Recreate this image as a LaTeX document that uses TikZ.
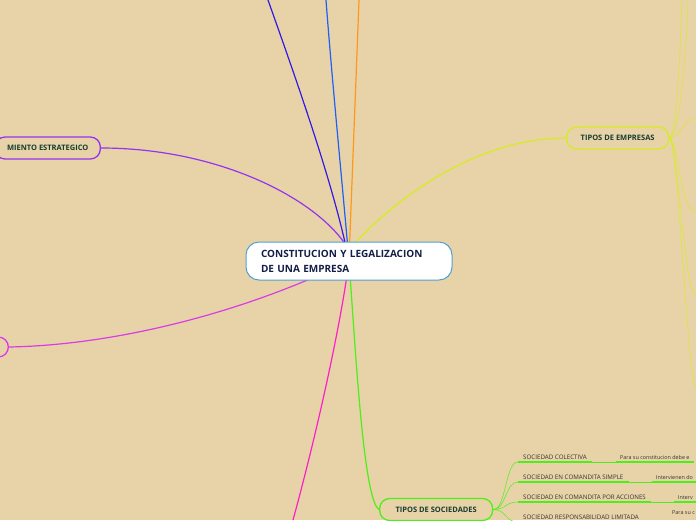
\documentclass[tikz,border=0pt]{standalone}
\usepackage{fontspec}
\setmainfont{Open Sans}
\usetikzlibrary{positioning,backgrounds}
\definecolor{fondo}{RGB}{232,211,168}
\definecolor{tinta}{RGB}{22,60,48}
\definecolor{tintacentro}{RGB}{20,30,70}
\definecolor{azulnodo}{RGB}{80,160,210}
\definecolor{ramamorada}{RGB}{150,50,240}
\definecolor{ramarosa}{RGB}{215,60,230}
\definecolor{ramaazul}{RGB}{50,25,230}
\definecolor{ramacielo}{RGB}{30,95,250}
\definecolor{ramanaranja}{RGB}{255,152,25}
\definecolor{ramaamarilla}{RGB}{215,235,35}
\definecolor{ramafucsia}{RGB}{255,30,200}
\definecolor{ramaverde}{RGB}{75,240,25}
\tikzset{
  tema/.style={draw, rounded corners=10pt, line width=1.3pt, text=tinta,
    font=\bfseries\fontsize{7.5}{9}\selectfont, inner xsep=12pt, minimum height=22pt},
  rama/.style={line width=1.2pt},
  subrama/.style={line width=0.5pt},
  hoja/.style={anchor=south west, inner xsep=5pt, inner ysep=2pt, text=black!80,
    font=\fontsize{6.2}{7.4}\selectfont},
  nota/.style={hoja, inner xsep=4pt, font=\fontsize{5.4}{6.5}\selectfont},
  subraya/.style={line width=1.6pt, ramaverde},
}
\begin{document}
\begin{tikzpicture}[x=1pt,y=-1pt]
\useasboundingbox (0,0) rectangle (696,520);
\clip (0,0) rectangle (696,520);
% nodos principales
\node[draw=azulnodo, fill=white, rounded corners=13pt, line width=1pt, text width=176pt,
  minimum height=38pt, inner xsep=15pt, align=left, text=tintacentro,
  font=\bfseries\fontsize{10}{15}\selectfont] (centro) at (349,261)
  {CONSTITUCION Y LEGALIZACION\\DE UNA EMPRESA};
\node[tema, draw=ramaamarilla, anchor=west, minimum width=102pt] (empresas) at (566,138) {TIPOS DE EMPRESAS};
\node[tema, draw=ramaverde, anchor=west, minimum width=113pt] (sociedades) at (379,509.5) {TIPOS DE SOCIEDADES};
\node[tema, draw=ramamorada, anchor=east] (estrategico) at (101,148) {MIENTO ESTRATEGICO};
\node[tema, draw=ramarosa, anchor=east, minimum width=60pt, minimum height=20pt] (rosa) at (9,347) {};
% hojas de sociedades
\node[hoja] (colectiva) at (518,462) {SOCIEDAD COLECTIVA};
\node[hoja] (simple) at (518,482) {SOCIEDAD EN COMANDITA SIMPLE};
\node[hoja] (acciones) at (518,502) {SOCIEDAD EN COMANDITA POR ACCIONES};
\node[hoja] (limitada) at (518,522) {SOCIEDAD RESPONSABILIDAD LIMITADA};
\node[nota] (colectivadef) at (616,462) {Para su constitucion debe e};
\node[nota] (simpledef) at (652,482) {Intervienen do};
\node[nota] (accionesdef) at (674,502) {Interv};
\node[nota, text depth=9pt] (limitadadef) at (668,526) {Para su c};
\foreach \h in {colectiva,simple,acciones,limitada,colectivadef,simpledef,accionesdef,limitadadef}
  \draw[subraya] (\h.south west) -- (\h.south east);
\foreach \h in {colectiva,simple,acciones,limitada}
  \draw[subrama, ramaverde] (\h.south east) -- (\h def.south west);
% bordes libres
\coordinate (arriba1) at (268,0);
\coordinate (arriba2) at (326,0);
\coordinate (arriba3) at (359,0);
\coordinate (abajo1) at (293,520);
\coordinate (e1) at (682,0);
\coordinate (e2) at (688,0);
\coordinate (e3) at (696,118);
\coordinate (e4) at (696,212);
\coordinate (e5) at (696,295);
\coordinate (e6) at (696,388);
\begin{scope}[on background layer]
\fill[fondo] (0,0) rectangle (696,520);
\draw[rama, ramamorada] (estrategico.east) .. controls (220,148) and (320,200) .. ([yshift=11pt]centro.center);
\draw[rama, ramarosa] (rosa.east) .. controls (120,345) and (250,310) .. (centro.center);
\draw[rama, ramaazul] (arriba1) .. controls (300,90) and (335,190) .. (centro.center);
\draw[rama, ramacielo] (arriba2) .. controls (332,80) and (342,180) .. (centro.center);
\draw[rama, ramanaranja] (arriba3) .. controls (356,80) and (352,180) .. (centro.center);
\draw[rama, ramaamarilla] ([yshift=11pt]centro.center) .. controls (372,222) and (460,138) .. (empresas.west);
\draw[rama, ramafucsia] (centro.center) .. controls (340,330) and (315,440) .. (abajo1);
\draw[rama, ramaverde] (centro.center) .. controls (355,340) and (363,500) .. (sociedades.west);
\foreach \h in {colectiva,simple,acciones,limitada}
  \draw[subrama, ramaverde] (sociedades.east) .. controls +(13,0) and +(-13,0) .. (\h.south west);
\draw[subrama, ramaamarilla] (empresas.east) .. controls (676,138) and (680,60) .. (e1);
\draw[subrama, ramaamarilla] (empresas.east) .. controls (679,138) and (686,60) .. (e2);
\draw[subrama, ramaamarilla] (empresas.east) .. controls (680,138) and (684,118) .. (e3);
\draw[subrama, ramaamarilla] (empresas.east) .. controls (678,138) and (680,212) .. (e4);
\draw[subrama, ramaamarilla] (empresas.east) .. controls (678,138) and (684,295) .. (e5);
\draw[subrama, ramaamarilla] (empresas.east) .. controls (678,138) and (688,388) .. (e6);
\end{scope}
\end{tikzpicture}
\end{document}
